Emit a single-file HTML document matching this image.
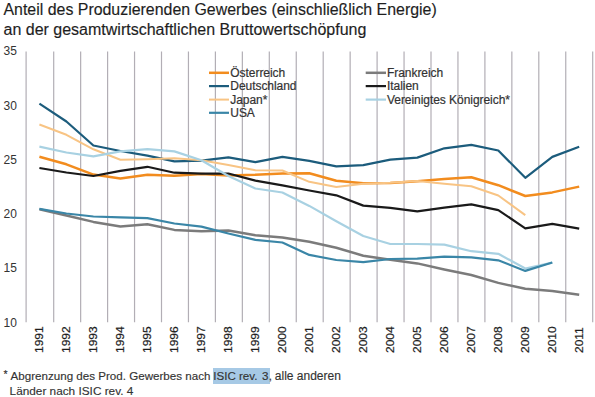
<!DOCTYPE html>
<html><head><meta charset="utf-8"><style>
html,body{margin:0;padding:0;background:#fff;}
body{width:595px;height:397px;position:relative;overflow:hidden;font-family:"Liberation Sans",sans-serif;}
.t{position:absolute;left:3.5px;font-size:15.92px;color:#1e1e1e;-webkit-text-stroke:0.15px #1e1e1e;white-space:nowrap;line-height:19px;}
.yl{position:absolute;left:3.5px;font-size:12px;color:#333;line-height:13px;}
.xl{position:absolute;top:353px;font-size:11px;color:#1e1e1e;line-height:12px;-webkit-text-stroke:0.2px #1e1e1e;transform-origin:0 0;transform:rotate(-90deg) scaleX(1.09);white-space:nowrap;}
.lg{position:absolute;font-size:12px;letter-spacing:-0.05px;color:#333;-webkit-text-stroke:0.2px #333;line-height:13px;white-space:nowrap;}
.fn{position:absolute;color:#333;-webkit-text-stroke:0.15px #333;line-height:14px;white-space:nowrap;}
.hlb{position:absolute;left:213.3px;top:368px;width:56.6px;height:15.6px;background:#a6c9e5;}
svg{position:absolute;left:0;top:0;}
</style></head><body>
<div class="t" style="top:0px">Anteil des Produzierenden Gewerbes (einschließlich Energie)</div>
<div class="t" style="top:20.4px;font-size:16px">an der gesamtwirtschaftlichen Bruttowertschöpfung</div>
<svg width="595" height="397" viewBox="0 0 595 397">
<g stroke="#b2aeb5" stroke-width="1.2"><line x1="26.10" y1="51.5" x2="26.10" y2="322.3"/><line x1="53.70" y1="51.5" x2="53.70" y2="322.3"/><line x1="80.65" y1="51.5" x2="80.65" y2="322.3"/><line x1="107.60" y1="51.5" x2="107.60" y2="322.3"/><line x1="134.55" y1="51.5" x2="134.55" y2="322.3"/><line x1="161.50" y1="51.5" x2="161.50" y2="322.3"/><line x1="188.45" y1="51.5" x2="188.45" y2="322.3"/><line x1="215.40" y1="51.5" x2="215.40" y2="322.3"/><line x1="242.35" y1="51.5" x2="242.35" y2="322.3"/><line x1="269.30" y1="51.5" x2="269.30" y2="322.3"/><line x1="296.25" y1="51.5" x2="296.25" y2="322.3"/><line x1="323.20" y1="51.5" x2="323.20" y2="322.3"/><line x1="350.15" y1="51.5" x2="350.15" y2="322.3"/><line x1="377.10" y1="51.5" x2="377.10" y2="322.3"/><line x1="404.05" y1="51.5" x2="404.05" y2="322.3"/><line x1="431.00" y1="51.5" x2="431.00" y2="322.3"/><line x1="457.95" y1="51.5" x2="457.95" y2="322.3"/><line x1="484.90" y1="51.5" x2="484.90" y2="322.3"/><line x1="511.85" y1="51.5" x2="511.85" y2="322.3"/><line x1="538.80" y1="51.5" x2="538.80" y2="322.3"/><line x1="565.75" y1="51.5" x2="565.75" y2="322.3"/><line x1="592.70" y1="51.5" x2="592.70" y2="322.3"/></g>
<g fill="none" stroke-linejoin="round" stroke-linecap="butt">
<polyline points="39.4,156.7 66.4,164.3 93.4,174.6 120.4,178.4 147.4,174.8 174.4,175.7 201.4,174.0 228.4,175.5 255.4,174.8 282.4,173.4 309.3,173.3 336.3,180.8 363.3,183.3 390.3,183.0 417.3,181.3 444.3,179.0 471.3,177.2 498.3,185.2 525.3,196.0 552.3,192.4 579.2,186.6" stroke="#f28c1e" stroke-width="2.5"/>
<polyline points="39.4,209.3 66.4,215.5 93.4,221.9 120.4,226.5 147.4,224.3 174.4,229.9 201.4,231.2 228.4,230.5 255.4,235.2 282.4,237.4 309.3,241.8 336.3,247.7 363.3,255.7 390.3,259.8 417.3,263.4 444.3,269.5 471.3,275.0 498.3,282.9 525.3,288.8 552.3,291.1 579.2,294.7" stroke="#7b7b7b" stroke-width="2.5"/>
<polyline points="39.4,103.6 66.4,121.5 93.4,145.5 120.4,151.0 147.4,155.6 174.4,161.4 201.4,160.6 228.4,157.4 255.4,162.2 282.4,156.8 309.3,160.9 336.3,166.3 363.3,165.2 390.3,159.6 417.3,157.6 444.3,148.3 471.3,144.8 498.3,150.5 525.3,177.8 552.3,156.9 579.2,146.8" stroke="#1c5c7c" stroke-width="2.2"/>
<polyline points="39.4,168.0 66.4,172.5 93.4,176.0 120.4,170.9 147.4,166.8 174.4,172.7 201.4,173.7 228.4,173.5 255.4,180.6 282.4,185.3 309.3,190.5 336.3,195.3 363.3,205.6 390.3,207.9 417.3,211.3 444.3,207.7 471.3,204.3 498.3,210.1 525.3,228.4 552.3,223.9 579.2,228.7" stroke="#1a1a1a" stroke-width="2.2"/>
<polyline points="39.4,124.5 66.4,134.8 93.4,149.3 120.4,159.7 147.4,159.2 174.4,158.3 201.4,160.3 228.4,165.0 255.4,170.3 282.4,170.5 309.3,181.8 336.3,187.1 363.3,183.7 390.3,182.7 417.3,181.0 444.3,183.7 471.3,186.3 498.3,195.5 525.3,215.1" stroke="#f8c484" stroke-width="2.0"/>
<polyline points="39.4,146.7 66.4,152.5 93.4,156.3 120.4,151.4 147.4,149.2 174.4,151.4 201.4,160.3 228.4,176.0 255.4,188.5 282.4,192.5 309.3,205.9 336.3,221.3 363.3,236.0 390.3,244.0 417.3,244.0 444.3,244.6 471.3,251.2 498.3,253.8 525.3,268.5 552.3,262.6" stroke="#a8d1e2" stroke-width="2.2"/>
<polyline points="39.4,208.9 66.4,213.5 93.4,216.5 120.4,217.3 147.4,218.1 174.4,223.5 201.4,226.6 228.4,233.5 255.4,239.9 282.4,242.5 309.3,254.9 336.3,260.0 363.3,262.2 390.3,259.0 417.3,258.7 444.3,256.7 471.3,257.3 498.3,260.3 525.3,270.9 552.3,262.5" stroke="#3a86a7" stroke-width="2.2"/>
</g>
<g><line x1="209" y1="72.8" x2="229" y2="72.8" stroke="#f28c1e" stroke-width="2.5"/><line x1="209" y1="86.1" x2="229" y2="86.1" stroke="#1c5c7c" stroke-width="2.2"/><line x1="209" y1="99.6" x2="229" y2="99.6" stroke="#f8c484" stroke-width="2.0"/><line x1="209" y1="112.8" x2="229" y2="112.8" stroke="#3a86a7" stroke-width="2.2"/><line x1="365.7" y1="72.8" x2="386" y2="72.8" stroke="#7b7b7b" stroke-width="2.5"/><line x1="365.7" y1="86.1" x2="386" y2="86.1" stroke="#1a1a1a" stroke-width="2.2"/><line x1="365.7" y1="99.6" x2="386" y2="99.6" stroke="#a8d1e2" stroke-width="2.2"/></g>
</svg>
<div class="yl" style="top:45.1px">35</div><div class="yl" style="top:99.9px">30</div><div class="yl" style="top:154.1px">25</div><div class="yl" style="top:208.1px">20</div><div class="yl" style="top:262.4px">15</div><div class="yl" style="top:316.5px">10</div>
<div class="xl" style="left:33.2px">1991</div><div class="xl" style="left:60.2px">1992</div><div class="xl" style="left:87.2px">1993</div><div class="xl" style="left:114.2px">1994</div><div class="xl" style="left:141.2px">1995</div><div class="xl" style="left:168.2px">1996</div><div class="xl" style="left:195.2px">1997</div><div class="xl" style="left:222.2px">1998</div><div class="xl" style="left:249.2px">1999</div><div class="xl" style="left:276.2px">2000</div><div class="xl" style="left:303.1px">2001</div><div class="xl" style="left:330.1px">2002</div><div class="xl" style="left:357.1px">2003</div><div class="xl" style="left:384.1px">2004</div><div class="xl" style="left:411.1px">2005</div><div class="xl" style="left:438.1px">2006</div><div class="xl" style="left:465.1px">2007</div><div class="xl" style="left:492.1px">2008</div><div class="xl" style="left:519.1px">2009</div><div class="xl" style="left:546.1px">2010</div><div class="xl" style="left:573.0px">2011</div>
<div class="lg" style="left:230.3px;top:66.80px">Österreich</div><div class="lg" style="left:230.3px;top:80.00px">Deutschland</div><div class="lg" style="left:230.3px;top:93.70px">Japan*</div><div class="lg" style="left:230.3px;top:107.30px">USA</div><div class="lg" style="left:387px;top:66.80px">Frankreich</div><div class="lg" style="left:387px;top:80.00px">Italien</div><div class="lg" style="left:387px;top:93.70px">Vereinigtes Königreich*</div>
<div class="hlb"></div>
<div class="fn" style="left:3.4px;top:367.36px;font-size:10.5px;">*</div><div class="fn" style="left:10.6px;top:368.98px;font-size:11.6px;">Abgrenzung des Prod. Gewerbes nach</div><div class="fn" style="left:213.3px;top:368.98px;font-size:11.6px;">ISIC</div><div class="fn" style="left:239.0px;top:368.98px;font-size:11.6px;">rev.</div><div class="fn" style="left:262.1px;top:368.98px;font-size:11.6px;">3</div><div class="fn" style="left:268.8px;top:368.98px;font-size:11.6px;">,</div><div class="fn" style="left:274.8px;top:368.84px;font-size:12.0px;">alle anderen</div><div class="fn" style="left:9.6px;top:383.71px;font-size:11.8px;">Länder nach ISIC rev. 4</div>
</body></html>
